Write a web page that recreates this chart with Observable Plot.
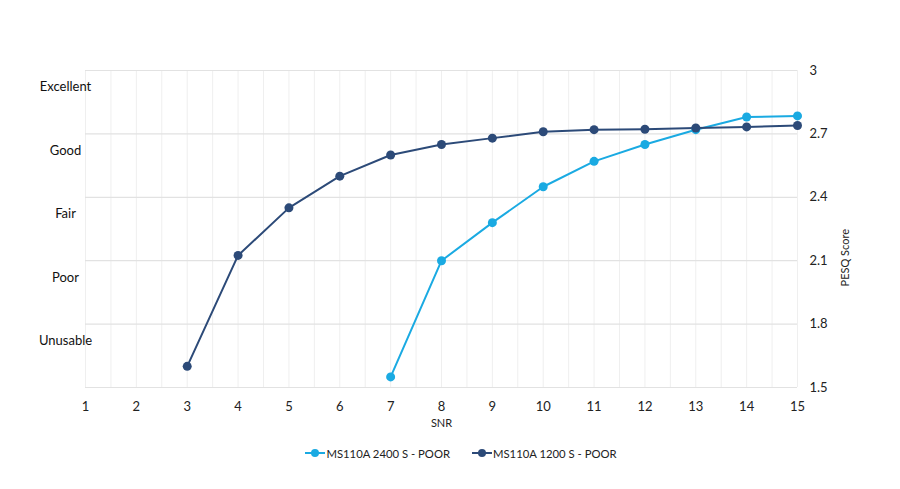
<!DOCTYPE html>
<html>
<head>
<meta charset="utf-8">
<script src="https://cdn.jsdelivr.net/npm/d3@7"></script>
<script src="https://cdn.jsdelivr.net/npm/@observablehq/plot@0.6"></script>
<style>
  html, body { margin: 0; padding: 0; background: #fff; }
  body { width: 900px; height: 489px; overflow: hidden; font-family: Lato, "Open Sans", sans-serif; }
  #legend { display: flex; justify-content: center; gap: 22px; margin-top: 9px; height: 18px; align-items: center; font-size: 11.3px; color: #222; padding-left: 22px; }
  .item { display: flex; align-items: center; gap: 1px; }
</style>
</head>
<body>
<div id="chart"></div>
<div id="legend"></div>
<script>
const snrTicks = [1, 2, 3, 4, 5, 6, 7, 8, 9, 10, 11, 12, 13, 14, 15];
const pesqTicks = [1.5, 1.8, 2.1, 2.4, 2.7, 3];
const ratingLabels = ["Excellent", "Good", "Fair", "Poor", "Unusable"];
const ratingMid = [2.85, 2.55, 2.25, 1.95, 1.65];

const seriesNames = ["MS110A 2400 S - POOR", "MS110A 1200 S - POOR"];
const seriesColors = ["#1aaae2", "#2c4a78"];

const snr2400 = [7, 8, 9, 10, 11, 12, 13, 14, 15];
const pesq2400 = [1.55, 2.10, 2.28, 2.45, 2.57, 2.65, 2.72, 2.78, 2.785];

const snr1200 = [3, 4, 5, 6, 7, 8, 9, 10, 11, 12, 13, 14, 15];
const pesq1200 = [1.60, 2.125, 2.35, 2.50, 2.60, 2.65, 2.68, 2.71, 2.72, 2.722, 2.728, 2.733, 2.74];

const data = [
  ...snr2400.map((s, i) => ({snr: s, pesq: pesq2400[i], series: seriesNames[0]})),
  ...snr1200.map((s, i) => ({snr: s, pesq: pesq1200[i], series: seriesNames[1]}))
];
const ratings = ratingLabels.map((l, i) => ({label: l, y: ratingMid[i]}));
const xGrid = d3.range(1, 15.01, 0.5);

const chart = Plot.plot({
  width: 900,
  height: 435,
  marginTop: 70,
  marginBottom: 48,
  marginLeft: 85,
  marginRight: 103,
  style: {fontFamily: "Lato, 'Open Sans', sans-serif", color: "#222", background: "#fff"},
  x: {domain: [1, 15], ticks: snrTicks, label: null},
  y: {domain: [1.5, 3], ticks: pesqTicks, label: null},
  color: {domain: seriesNames, range: seriesColors},
  marks: [
    Plot.ruleX(xGrid, {stroke: "#efefef", strokeWidth: 1}),
    Plot.ruleY(pesqTicks, {stroke: "#e2e2e2", strokeWidth: 1.2}),
    Plot.axisX({ticks: snrTicks, tickSize: 0, tickPadding: 14, fontSize: 13, label: null}),
    Plot.axisY({anchor: "right", ticks: pesqTicks, tickFormat: d => String(d), tickSize: 0, tickPadding: 12, fontSize: 13, label: null}),
    Plot.text(["SNR"], {frameAnchor: "bottom", dy: 39, fontSize: 11, fill: "#222"}),
    Plot.text(["PESQ Score"], {frameAnchor: "right", dx: 48, rotate: -90, fontSize: 11, fill: "#222"}),
    Plot.text(ratings, {y: "y", text: "label", frameAnchor: "left", dx: -20, dy: -15, textAnchor: "middle", fontSize: 13, fill: "#111"}),
    Plot.line(data, {x: "snr", y: "pesq", stroke: "series", strokeWidth: 2}),
    Plot.dot(data, {x: "snr", y: "pesq", fill: "series", r: 4.5, stroke: "none"})
  ]
});
document.getElementById("chart").appendChild(chart);

const legend = document.getElementById("legend");
seriesNames.forEach((name, i) => {
  const item = document.createElement("div");
  item.className = "item";
  item.innerHTML = `<svg width="20" height="10"><line x1="0" y1="5" x2="20" y2="5" stroke="${seriesColors[i]}" stroke-width="2"/><circle cx="10" cy="5" r="4" fill="${seriesColors[i]}"/></svg><span>${name}</span>`;
  legend.appendChild(item);
});
</script>
</body>
</html>
